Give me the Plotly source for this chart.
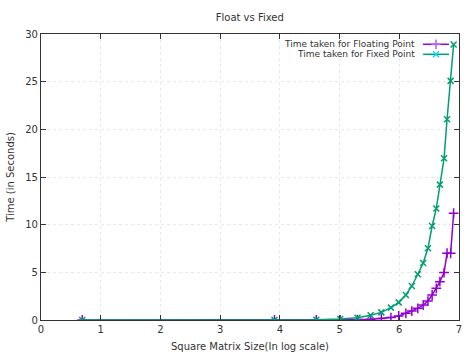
import plotly.graph_objects as go

# ln(matrix size) for sizes 2, 50, 100, ..., 1000
x_log_size = [0.69, 3.91, 4.61, 5.01, 5.30, 5.52, 5.70, 5.86, 5.99, 6.11, 6.21,
              6.31, 6.40, 6.48, 6.55, 6.62, 6.68, 6.75, 6.80, 6.86, 6.91]
t_floating = [0.0, 0.0, 0.01, 0.02, 0.04, 0.08, 0.15, 0.25, 0.42, 0.7, 0.94,
              1.22, 1.57, 1.99, 2.62, 3.32, 4.02, 4.97, 7.0, 7.0, 11.2]
t_fixed = [0.0, 0.0, 0.02, 0.1, 0.24, 0.5, 0.8, 1.3, 1.85, 2.62, 3.57,
           4.8, 5.97, 7.52, 9.86, 11.7, 14.2, 16.96, 21.06, 25.08, 28.9]

series_names = ["Time taken for Floating Point", "Time taken for Fixed Point"]
x_ticks = [0, 1, 2, 3, 4, 5, 6, 7]
y_ticks = [0, 5, 10, 15, 20, 25, 30]

FONT = "DejaVu Sans"
PURPLE = "#9400d3"
GREEN = "#009e73"
TXT = "#333333"

styles = [
    dict(color=PURPLE, symbol="cross-thin-open", size=7),
    dict(color=GREEN, symbol="x-thin-open", size=6),
]

fig = go.Figure()
for name, ys, st in zip(series_names, [t_floating, t_fixed], styles):
    fig.add_trace(go.Scatter(
        x=x_log_size, y=ys, mode="lines+markers", name=name, showlegend=False,
        line=dict(color=st["color"], width=1.5),
        marker=dict(symbol=st["symbol"], size=st["size"],
                    line=dict(color=st["color"], width=1.5)),
    ))

# gnuplot-style key: right-aligned text with the sample to its right
key_rows = [0.964, 0.929]
for name, st, ky in zip(series_names, styles, key_rows):
    fig.add_trace(go.Scatter(
        x=[0.914, 0.976], y=[ky, ky], mode="lines", xaxis="x2", yaxis="y2",
        showlegend=False, hoverinfo="skip",
        line=dict(color=st["color"], width=1.5),
    ))
    fig.add_trace(go.Scatter(
        x=[0.945], y=[ky], mode="markers", xaxis="x2", yaxis="y2",
        showlegend=False, hoverinfo="skip",
        marker=dict(symbol=st["symbol"], size=st["size"],
                    line=dict(color=st["color"], width=1.5)),
    ))
    fig.add_annotation(
        text=name, xref="x2", yref="y2", x=0.900, y=ky, xanchor="right",
        yanchor="middle", showarrow=False,
        font=dict(family=FONT, size=9, color=TXT),
    )

axis_common = dict(
    showline=True, linecolor=TXT, linewidth=1.2, mirror="ticks",
    ticks="inside", ticklen=5, tickcolor=TXT, automargin=False,
    showgrid=True, gridcolor="#e8e8e8", griddash="dot", gridwidth=1,
    zeroline=False, tickfont=dict(family=FONT, size=10, color=TXT),
)

fig.update_layout(
    width=474, height=355,
    margin=dict(l=41, r=15, t=34, b=35),
    paper_bgcolor="white", plot_bgcolor="white",
    font=dict(family=FONT, size=10, color=TXT),
    title=dict(text="Float vs Fixed", x=0.527, xanchor="center", y=0.952,
               yanchor="middle", automargin=False,
               font=dict(family=FONT, size=10, color=TXT)),
    xaxis=dict(range=[0, 7], tickvals=x_ticks,
               title=dict(text="Square Matrix Size(In log scale)", standoff=8,
                          font=dict(family=FONT, size=10)),
               **axis_common),
    yaxis=dict(range=[0, 30], tickvals=y_ticks,
               title=dict(text="Time (in Seconds)", standoff=8,
                          font=dict(family=FONT, size=10)),
               **axis_common),
    xaxis2=dict(range=[0, 1], overlaying="x", visible=False, fixedrange=True),
    yaxis2=dict(range=[0, 1], overlaying="y", visible=False, fixedrange=True),
    showlegend=False,
)

fig.write_html(
    "out.html",
    config={"displayModeBar": False},
    post_script="document.body.style.margin='0';document.body.style.overflow='hidden';",
)
